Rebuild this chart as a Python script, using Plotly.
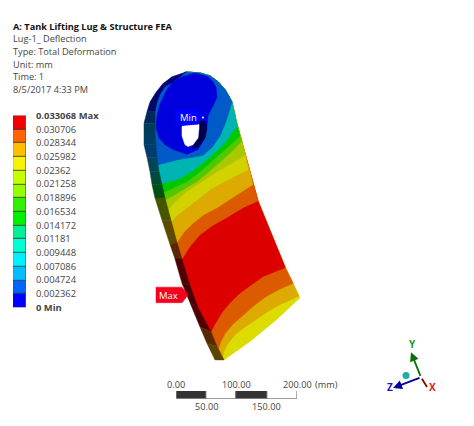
import plotly.graph_objects as go

# === TEXT ===
header_title = "A: Tank Lifting Lug & Structure FEA"
header_lines = ["Lug-1_ Deflection", "Type: Total Deformation", "Unit: mm", "Time: 1", "8/5/2017 4:33 PM"]

# === LEGEND DATA ===
levels = [0, 0.002362, 0.004724, 0.007086, 0.009448, 0.01181, 0.014172, 0.016534,
          0.018896, 0.021258, 0.02362, 0.025982, 0.028344, 0.030706, 0.033068]
level_labels = ["<b>0 Min</b>", "0.002362", "0.004724", "0.007086", "0.009448", "0.01181", "0.014172", "0.016534",
                "0.018896", "0.021258", "0.02362", "0.025982", "0.028344", "0.030706", "<b>0.033068 Max</b>"]
level_colors = ["#0000ff", "#0064ff", "#00beff", "#00f0ff", "#00ffd2", "#00f096", "#00f000",
                "#32f000", "#96ff00", "#c8ff00", "#f5f500", "#ffbe00", "#ff6400", "#f00000"]

# === SCALE BAR DATA ===
scale_edges = [0, 50, 100, 150, 200]
scale_colors = ["#333333", "#ffffff", "#333333", "#ffffff"]
scale_top = [0, 100, 200]
scale_bottom = [50, 150]

# === GEOMETRY OF THE LUG (picture pixels) ===
right_chain = [(224, 364), (250, 345), (277, 322), (300, 300), (293, 285), (285, 268), (273, 238), (265, 218),
               (258, 200), (250, 170), (245, 152), (240, 133), (236, 117), (232, 98), (229, 92), (225, 85),
               (218, 77), (210, 71), (200, 68), (190, 67)]
left_chain = [(186, 67), (172, 78), (165, 82), (160, 90), (157, 98), (155, 108), (155, 120), (155, 130), (156, 142),
              (157, 155), (159, 170), (162, 183), (165, 197), (171, 220), (177, 243), (182, 260), (190, 287),
              (198, 310), (211, 335), (217, 350), (224, 364)]
side_outer = [(186, 67), (172, 72), (163, 79), (156, 88), (150, 98), (147, 108), (144, 120), (144, 130), (144, 142),
              (147, 155), (150, 170), (152, 183), (155, 197), (162, 220), (170, 245), (175, 260), (182, 285),
              (190, 305), (200, 330), (207, 347), (215, 364)]
side_colors = ["#000078", "#000078", "#000078", "#00006e", "#000a64", "#00285a", "#003c5a", "#003c64", "#003c6e",
               "#00465a", "#004b3c", "#005014", "#465500", "#5a4b00", "#5a2800", "#500000", "#4b0000", "#500000",
               "#5a2800", "#5a4600"]

# lower boundary of each colour band, left edge to right edge
band_curves = [
    [(222, 363), (224, 355), (228, 347), (235, 338), (245, 330), (257, 322), (268, 314), (280, 307), (290, 302), (299, 298)],
    [(218, 353), (221, 345), (225, 337), (233, 327), (243, 318), (255, 307), (267, 298), (280, 291), (293, 285)],
    [(211, 335), (215, 327), (222, 315), (230, 305), (240, 295), (252, 286), (263, 278), (275, 273), (285, 269)],
    [(182, 260), (190, 247), (200, 235), (213, 225), (227, 217), (243, 207), (258, 200)],
    [(177, 243), (184, 232), (193, 223), (204, 214), (217, 207), (235, 195), (253, 183)],
    [(171, 222), (178, 214), (187, 207), (199, 197), (212, 187), (230, 177), (248, 168)],
    [(167, 210), (176, 200), (187, 190), (202, 180), (217, 170), (232, 161), (245, 153)],
    [(164, 200), (180, 190), (197, 180), (209, 170), (220, 160), (232, 149), (242, 138)],
    [(160, 193), (173, 187), (187, 180), (200, 170), (213, 158), (227, 146), (240, 133)],
    [(158, 183), (168, 180), (180, 177), (195, 167), (210, 155), (225, 140), (237, 123)],
    [(157, 163), (168, 160), (180, 157), (193, 155), (203, 153), (212, 145), (220, 133), (226, 118), (232, 100)],
]
band_colors = ["#dcaa00", "#dc5a00", "#dc0000", "#dc5a00", "#dcaa00", "#d2d200", "#aac800",
               "#50c800", "#00c800", "#00b4b4", "#005ac8"]
face_base_color = "#dcdc00"

deep_blue = [(208, 72), (213, 77), (216, 83), (217, 93), (213, 102), (208, 112), (207, 123), (205, 135), (198, 147),
             (187, 152), (173, 147), (165, 142), (159, 135), (156, 125), (157, 112), (160, 100), (167, 85), (173, 77),
             (182, 72), (195, 68)]
hole_shadow = [(200, 118), (205, 118), (207, 125), (205, 135), (198, 145), (192, 145), (197, 137), (199, 127)]
hole = [(182, 123), (182, 133), (185, 142), (188, 144), (193, 142), (198, 135), (199, 125), (199, 121)]
min_flag = [(175, 106), (198, 106), (202, 113), (198, 121), (175, 121)]
max_flag = [(156, 289), (182, 289), (188, 297), (182, 305), (156, 305)]

# triad arrows: tip, tail, colour, head style, label, label position, label colour
triad = [((411, 356), (421, 382), "#0a6e0a", 2, "Y", (412, 348), "#1e961e"),
         ((393, 393), (421, 382), "#000096", 2, "Z", (390, 392), "#1414c8"),
         ((427, 392), (421, 382), "#8c0000", 0, "X", (432, 392), "#e6141e")]


def polygon_trace(points, color):
    xs = [p[0] for p in points] + [points[0][0]]
    ys = [p[1] for p in points] + [points[0][1]]
    return go.Scatter(x=xs, y=ys, mode="lines", fill="toself", fillcolor=color,
                      line=dict(color=color, width=0.5), hoverinfo="skip", showlegend=False)


def above_curve(curve):
    # face region above a band boundary
    y_left, y_right = curve[0][1], curve[-1][1]
    right_part = [p for p in right_chain if p[1] < y_right]
    left_part = [p for p in left_chain if p[1] < y_left]
    return curve + right_part + left_part


fig = go.Figure()

# --- Lug ---
fig.add_trace(polygon_trace(right_chain + left_chain[:-1], face_base_color))
for curve, color in zip(band_curves, band_colors):
    fig.add_trace(polygon_trace(above_curve(curve), color))
fig.add_trace(polygon_trace(deep_blue, "#0000dc"))
fig.add_trace(polygon_trace(hole_shadow, "#000050"))
fig.add_trace(polygon_trace(hole, "#ffffff"))
for i, color in enumerate(side_colors):
    quad = [side_outer[i], side_outer[i + 1], left_chain[i + 1], left_chain[i]]
    fig.add_trace(polygon_trace(quad, color))

# --- Min / Max flags ---
fig.add_trace(polygon_trace(min_flag, "#0000ff"))
fig.add_trace(polygon_trace(max_flag, "#f5001e"))
fig.add_trace(go.Scatter(x=[203], y=[114], mode="markers", marker=dict(color="#ffffff", size=2),
                         hoverinfo="skip", showlegend=False))

# --- Triad ---
fig.add_trace(go.Scatter(x=[406], y=[380], mode="markers", marker=dict(color="#1eaab4", size=7),
                         hoverinfo="skip", showlegend=False))

# --- Legend colour bar ---
fig.add_trace(go.Bar(x=[1] * (len(levels) - 1), y=[levels[i + 1] - levels[i] for i in range(len(levels) - 1)],
                     base=levels[:-1], width=1, xaxis="x2", yaxis="y2",
                     marker=dict(color=level_colors, line=dict(color="#282828", width=0.6)),
                     hoverinfo="skip", showlegend=False))

# --- Scale bar ---
fig.add_trace(go.Bar(x=[scale_edges[i + 1] - scale_edges[i] for i in range(4)], y=[1] * 4,
                     base=scale_edges[:-1], width=1, orientation="h", xaxis="x3", yaxis="y3",
                     marker=dict(color=scale_colors, line=dict(color="#555555", width=0.8)),
                     hoverinfo="skip", showlegend=False))

annotations = []


def add_text(x, y, text, size=9.2, color="#444444", anchor="left", xref="x", yref="y"):
    annotations.append(dict(x=x, y=y, xref=xref, yref=yref, text=text, showarrow=False, xanchor=anchor,
                            yanchor="middle", font=dict(size=size, color=color), borderpad=0, borderwidth=0))


add_text(13, 20, "<b>" + header_title + "</b>", color="#111111")
for i, line in enumerate(header_lines):
    add_text(13, 33 + 13 * i, line)

add_text(188, 114, "Min", color="#ffffff", anchor="center", size=9.5)
add_text(168, 298, "Max", color="#ffffff", anchor="center", size=9.5)

for value in scale_top:
    add_text(value, 389, f"{value:.2f}", xref="x3", anchor="center")
add_text(315, 389, "(mm)")
for value in scale_bottom:
    add_text(value, 412, f"{value:.2f}", xref="x3", anchor="center")

for tip, tail, color, head, label, label_pos, label_color in triad:
    annotations.append(dict(x=tip[0], y=tip[1], ax=tail[0], ay=tail[1], axref="x", ayref="y", xref="x", yref="y",
                            text="", showarrow=True, arrowhead=head, arrowsize=1, arrowwidth=1.8, arrowcolor=color))
    annotations.append(dict(x=label_pos[0], y=label_pos[1], xref="x", yref="y", text="<b>" + label + "</b>",
                            showarrow=False, font=dict(size=10, color=label_color)))

# === Layout ===
fig.update_layout(
    width=474, height=426,
    margin=dict(l=0, r=0, t=0, b=0),
    plot_bgcolor="white", paper_bgcolor="white",
    font=dict(family="Open Sans", size=9.2, color="#444444"),
    showlegend=False,
    bargap=0,
    annotations=annotations,
    xaxis=dict(visible=False, range=[0, 474], domain=[0, 1]),
    yaxis=dict(visible=False, range=[426, 0], domain=[0, 1]),
    xaxis2=dict(visible=False, range=[0.5, 1.5], domain=[13 / 474, 26 / 474], anchor="y2"),
    yaxis2=dict(range=[0, 0.033068], domain=[(426 - 310) / 426, (426 - 112) / 426], anchor="x2", side="right",
                tickmode="array", tickvals=levels, ticktext=level_labels, ticks="", ticklen=0,
                ticklabelstandoff=9, showgrid=False, zeroline=False, showline=False,
                tickfont=dict(family="Open Sans", size=9.4, color="#444444")),
    xaxis3=dict(visible=False, range=[0, 200], domain=[176.3 / 474, 297 / 474], anchor="y3"),
    yaxis3=dict(visible=False, range=[0.5, 1.5], domain=[(426 - 404) / 426, (426 - 396) / 426], anchor="x3"),
)

fig.write_html("out.html", config=dict(displayModeBar=False), post_script="document.body.style.margin='0';")
